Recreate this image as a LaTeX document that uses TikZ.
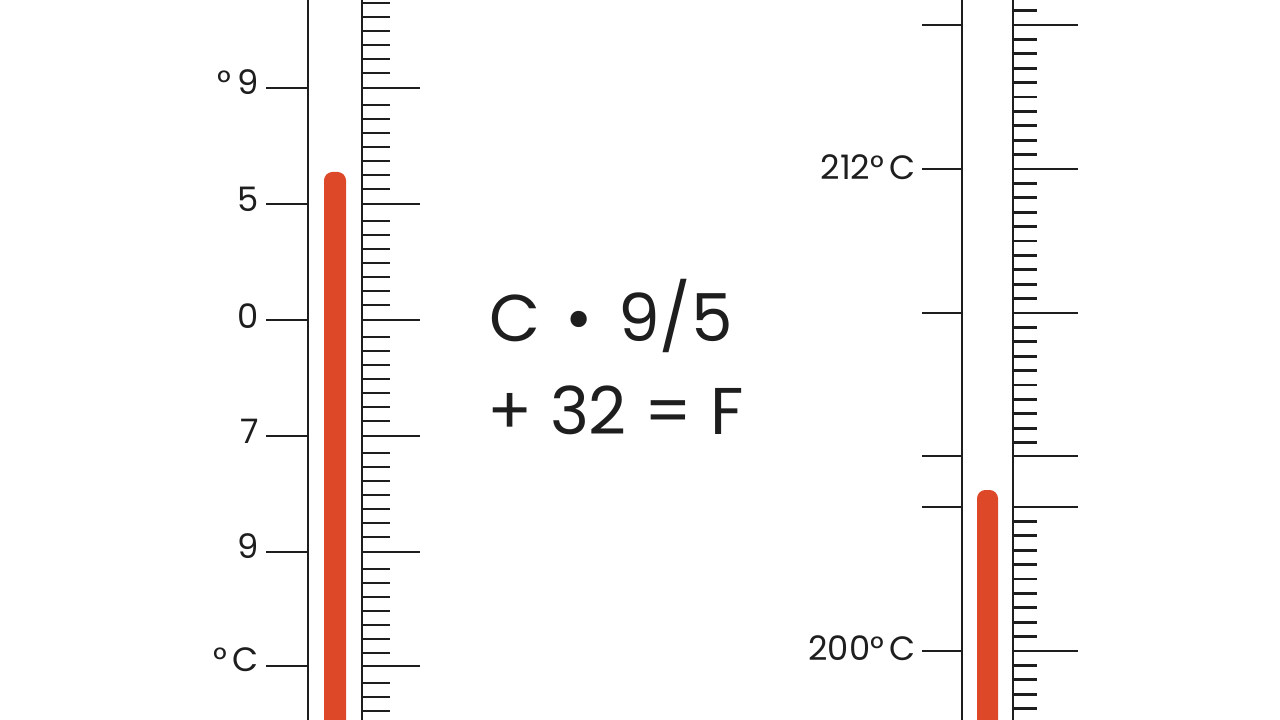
\documentclass[tikz,border=0pt]{standalone}
\usepackage{fontspec}
\setmainfont{Poppins}
\definecolor{mercury}{RGB}{221,72,40}
\definecolor{ink}{RGB}{30,30,30}

\begin{document}
\begin{tikzpicture}[x=0.025cm, y=-0.025cm,
  every node/.style={inner sep=0pt, text=ink},
  wall/.style={draw=ink, line width=2pt},
  tick/.style={draw=ink, line width=2pt},
  mark lbl/.style={anchor=east, font=\fontsize{24}{26}\selectfont},
  formula/.style={anchor=west, font=\fontsize{47}{50}\selectfont}]
\clip (0,0) rectangle (1280,720);
\fill[white] (0,0) rectangle (1280,720);

% left thermometer
\fill[mercury, rounded corners=6pt] (324,740) rectangle (346,172);
\draw[wall] (308,-10) -- (308,730);
\draw[wall] (362,-10) -- (362,730);
\foreach \y in {88,204,320,436,552,666} {
  \draw[tick] (266,\y) -- (308,\y);
  \draw[tick] (362,\y) -- (420,\y);
}
\foreach \y in {-28,88,204,320,436,552,666}
  \foreach \k in {0,...,6}
    \draw[tick] (362,\y+17+\k*14) -- (390,\y+17+\k*14);
\node[mark lbl] (L1) at (259,82) {°\,9};
\node[mark lbl] (L2) at (259,199) {5};
\node[mark lbl] (L3) at (259,316) {0};
\node[mark lbl] (L4) at (259,431) {7};
\node[mark lbl] (L5) at (259,546) {9};
\node[mark lbl] (L6) at (259,660) {°\,C};

% right thermometer
\fill[mercury, rounded corners=6pt] (977,740) rectangle (998,490);
\draw[wall] (962,-10) -- (962,730);
\draw[wall] (1013,-10) -- (1013,730);
\foreach \y in {25,169,313,456,507,651} {
  \draw[tick] (922,\y) -- (962,\y);
  \draw[tick] (1013,\y) -- (1078,\y);
}
\foreach \y in {-119,25,169,313,507,651}
  \foreach \k in {1,...,9}
    \draw[tick] (1013,\y+\k*14.4) -- (1037,\y+\k*14.4);
\node[mark lbl] (R1) at (916,167) {212°\,C};
\node[mark lbl] (R2) at (916,648) {200°\,C};

% conversion rule
\node[formula] (F1) at (489,316) {C\hspace{18pt}•\hspace{18pt}9/5};
\node[formula] (F2) at (487,410) {+ 32 = F};
\end{tikzpicture}
\end{document}
